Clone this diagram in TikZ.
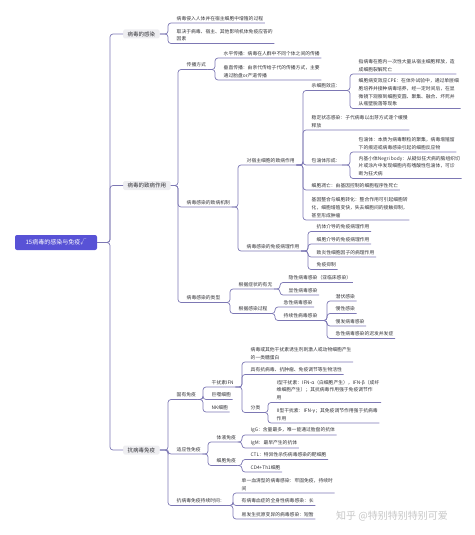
\documentclass[tikz,border=0pt]{standalone}
\usepackage{fontspec}
\newfontfamily\cjk{Noto Sans CJK SC}
\definecolor{linec}{RGB}{125,120,180}
\definecolor{rootc}{RGB}{88,82,214}
\definecolor{boxc}{RGB}{238,238,241}
\definecolor{textc}{RGB}{50,50,55}

\begin{document}
\begin{tikzpicture}[x=1pt, y=-1pt,
	link/.style={ linec, line width=0.7pt, rounded corners=3pt },
	root/.style={ fill=rootc, text=white, rounded corners=2pt, inner sep=0pt, minimum width=82pt, minimum height=15pt, font=\cjk\fontsize{6}{7}\selectfont },
	topic/.style={ fill=boxc, text=textc, rounded corners=1.5pt, inner xsep=4.5pt, inner ysep=0pt, minimum height=9pt, anchor=west, font=\cjk\fontsize{5.5}{6.5}\selectfont },
	leaf/.style={ text=textc, align=left, inner xsep=1.5pt, inner ysep=2.3pt, anchor=south west, font=\cjk\fontsize{4.8}{7.6}\selectfont }
]
\useasboundingbox (0,0) rectangle (474,535);

\node at (56,242.5) (root) [root] {15病毒的感染与免疫√};
\node at (123,34) (infect) [topic] {病毒的感染};
\node at (123,185.5) (patho) [topic] {病毒的致病作用};
\node at (123,450) (immune) [topic] {抗病毒免疫};
\foreach \c in {infect,patho,immune}
	\draw[link] (root.east) -| ([xshift=-13pt]\c.west) -- (\c.west);

% infection
\node at (175,23) (inproc) [leaf] {病毒侵入人体并在宿主细胞中增殖的过程};
\node at (175,43.5) (depend) [leaf] {取决于病毒、宿主、其他影响机体免疫应答的\\因素};
\foreach \c in {inproc,depend}
	\draw[link] (infect.east) -| ([xshift=-7pt]\c.south west) -- (\c.south east);

% pathogenesis
\node at (185,69.5) (spread) [leaf] {传播方式};
\node at (185,207) (mech) [leaf] {病毒感染的致病机制};
\node at (185,302.5) (types) [leaf] {病毒感染的类型};
\foreach \c in {spread,mech,types}
	\draw[link] (patho.east) -| ([xshift=-7pt]\c.south west) -- (\c.south east);

\node at (222,58) (horiz) [leaf] {水平传播：病毒在人群中不同个体之间的传播};
\node at (222,80) (vert) [leaf] {垂直传播：由亲代传给子代的传播方式，主要\\通过胎盘or产道传播};
\foreach \c in {horiz,vert}
	\draw[link] (spread.south east) -| ([xshift=-7pt]\c.south west) -- (\c.south east);

\node at (245,165) (host) [leaf] {对宿主细胞的致病作用};
\node at (245,251) (immpath) [leaf] {病毒感染的免疫病理作用};
\foreach \c in {host,immpath}
	\draw[link] (mech.south east) -| ([xshift=-7pt]\c.south west) -- (\c.south east);

\node at (310,90.5) (kill) [leaf] {杀细胞效应：};
\node at (310,130) (steady) [leaf] {稳定状态感染：子代病毒以出芽方式逐个缓慢\\释放};
\node at (310,165) (incl) [leaf] {包涵体形成：};
\node at (310,190) (apop) [leaf] {细胞凋亡：由基因控制的细胞程序性死亡};
\node at (310,220) (integ) [leaf] {基因整合与细胞转化：整合作用可引起细胞转\\化，细胞增殖变快，失去细胞间的接触抑制，\\甚至形成肿瘤};
\foreach \c in {kill,steady,incl,apop,integ}
	\draw[link] (host.south east) -| ([xshift=-7pt]\c.south west) -- (\c.south east);

\node at (357,74) (killrel) [leaf] {指病毒在胞内一次性大量从宿主细胞释放，造\\成细胞裂解死亡};
\node at (357,108.5) (cpe) [leaf] {细胞病变效应CPE：在体外试验中，通过单层细\\胞培养并接种病毒培养，经一定时间后，在显\\微镜下观察到细胞变圆、聚集、融合、坏死并\\从瓶壁脱落等现象};
\foreach \c in {killrel,cpe}
	\draw[link] (kill.south east) -| ([xshift=-7pt]\c.south west) -- (\c.south east);

\node at (357,152) (inclbody) [leaf] {包涵体：本质为病毒颗粒的聚集，病毒增殖留\\下的痕迹或病毒感染引起的细胞反应物};
\node at (357,178.5) (negri) [leaf] {内基小体Negri body：从疑似狂犬病的脑组织切\\片或涂片中发现细胞内有嗜酸性包涵体，可诊\\断为狂犬病};
\foreach \c in {inclbody,negri}
	\draw[link] (incl.south east) -| ([xshift=-7pt]\c.south west) -- (\c.south east);

\node at (315,231.5) (abmed) [leaf] {抗体介导的免疫病理作用};
\node at (315,244) (cellmed) [leaf] {细胞介导的免疫病理作用};
\node at (315,257) (cytok) [leaf] {致炎性细胞因子的病理作用};
\node at (315,269.5) (suppr) [leaf] {免疫抑制};
\foreach \c in {abmed,cellmed,cytok,suppr}
	\draw[link] (immpath.south east) -| ([xshift=-7pt]\c.south west) -- (\c.south east);

\node at (237,289) (symp) [leaf] {根据症状的有无};
\node at (237,313.5) (course) [leaf] {根据感染过程};
\foreach \c in {symp,course}
	\draw[link] (types.south east) -| ([xshift=-7pt]\c.south west) -- (\c.south east);

\node at (287,282.5) (hidden) [leaf] {隐性病毒感染（亚临床感染）};
\node at (287,295) (overt) [leaf] {显性病毒感染};
\foreach \c in {hidden,overt}
	\draw[link] (symp.south east) -| ([xshift=-7pt]\c.south west) -- (\c.south east);

\node at (282,307) (acute) [leaf] {急性病毒感染};
\node at (282,320.5) (persist) [leaf] {持续性病毒感染};
\foreach \c in {acute,persist}
	\draw[link] (course.south east) -| ([xshift=-7pt]\c.south west) -- (\c.south east);

\node at (334,301) (latent) [leaf] {潜伏感染};
\node at (334,313.5) (chronic) [leaf] {慢性感染};
\node at (334,326) (slow) [leaf] {慢发病毒感染};
\node at (334,338.5) (late) [leaf] {急性病毒感染的迟发并发症};
\foreach \c in {latent,chronic,slow,late}
	\draw[link] (persist.south east) -| ([xshift=-7pt]\c.south west) -- (\c.south east);

% antiviral immunity
\node at (175,399.5) (innate) [leaf] {固有免疫};
\node at (175,454) (adapt) [leaf] {适应性免疫};
\node at (175,505.5) (durat) [leaf] {抗病毒免疫持续时间：};
\foreach \c in {innate,adapt,durat}
	\draw[link] (immune.east) -| ([xshift=-7pt]\c.south west) -- (\c.south east);

\node at (210,387) (ifn) [leaf] {干扰素IFN};
\node at (210,399.5) (macro) [leaf] {巨噬细胞};
\node at (210,412) (nk) [leaf] {NK细胞};
\foreach \c in {ifn,macro,nk}
	\draw[link] (innate.south east) -| ([xshift=-7pt]\c.south west) -- (\c.south east);

\node at (249,362) (ifndef) [leaf] {病毒或其他干扰素诱生剂刺激人或动物细胞产生\\的一类糖蛋白};
\node at (249,374.5) (ifnact) [leaf] {具有抗病毒、抗肿瘤、免疫调节等生物活性};
\node at (249,412.5) (ifntype) [leaf] {分类};
\foreach \c in {ifndef,ifnact,ifntype}
	\draw[link] (ifn.south east) -| ([xshift=-7pt]\c.south west) -- (\c.south east);

\node at (275,402.5) (typeone) [leaf] {I型干扰素：IFN-α（白细胞产生），IFN-β（成纤\\维细胞产生）；其抗病毒作用强于免疫调节作\\用};
\node at (275,423) (typetwo) [leaf] {II型干扰素：IFN-γ；其免疫调节作用强于抗病毒\\作用};
\foreach \c in {typeone,typetwo}
	\draw[link] (ifntype.south east) -| ([xshift=-7pt]\c.south west) -- (\c.south east);

\node at (215,442) (humoral) [leaf] {体液免疫};
\node at (215,465.5) (cellular) [leaf] {细胞免疫};
\foreach \c in {humoral,cellular}
	\draw[link] (adapt.south east) -| ([xshift=-7pt]\c.south west) -- (\c.south east);

\node at (249,435) (igg) [leaf] {IgG：含量最多，唯一能通过胎盘的抗体};
\node at (249,448) (igm) [leaf] {IgM：最早产生的抗体};
\foreach \c in {igg,igm}
	\draw[link] (humoral.south east) -| ([xshift=-7pt]\c.south west) -- (\c.south east);

\node at (249,459.5) (ctl) [leaf] {CTL：特异性杀伤病毒感染的靶细胞};
\node at (249,472) (cdfour) [leaf] {CD4+Th1细胞};
\foreach \c in {ctl,cdfour}
	\draw[link] (cellular.south east) -| ([xshift=-7pt]\c.south west) -- (\c.south east);

\node at (240,493) (single) [leaf] {单一血清型的病毒感染：牢固免疫，持续时\\间};
\node at (240,505.5) (viremia) [leaf] {有病毒血症的全身性病毒感染：长};
\node at (240,519) (variant) [leaf] {易发生抗原变异的病毒感染：短暂};
\foreach \c in {single,viremia,variant}
	\draw[link] (durat.south east) -| ([xshift=-7pt]\c.south west) -- (\c.south east);

\node at (392,516) (mark) [text=gray!45, font=\cjk\fontsize{10}{10}\selectfont] {知乎 @特别特别特别可爱};

\end{tikzpicture}
\end{document}
